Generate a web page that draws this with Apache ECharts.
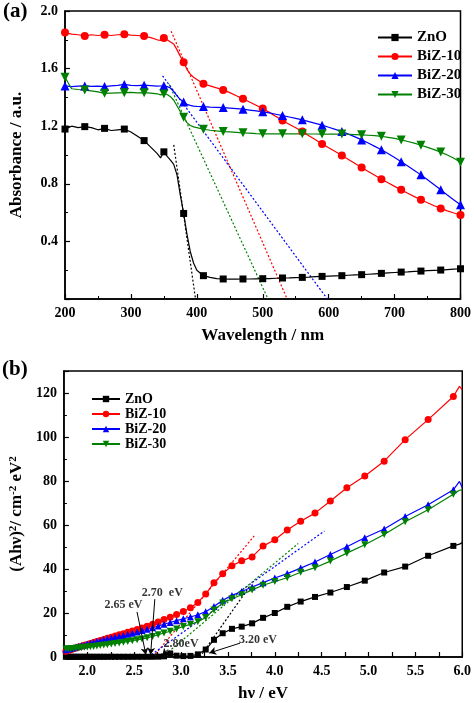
<!DOCTYPE html>
<html>
<head>
<meta charset="utf-8">
<script src="https://cdn.jsdelivr.net/npm/echarts@6/dist/echarts.min.js"></script>
<style>
  html, body { margin: 0; padding: 0; background: #fff; }
  #chart { width: 474px; height: 703px; }
</style>
</head>
<body>
<div id="chart"></div>
<script>
// ---- panel (a): absorbance vs wavelength ----
var wlA = [200, 210, 220, 230, 240, 250, 260, 270, 280, 290, 300, 310, 320, 330, 340, 345, 350, 355, 360, 365,
  370, 375, 380, 385, 390, 395, 400, 410, 420, 430, 440, 450, 460, 470, 480, 490, 500, 510, 520, 530, 540,
  550, 560, 570, 580, 590, 600, 610, 620, 630, 640, 650, 660, 670, 680, 690, 700, 710, 720, 730, 740, 750,
  760, 770, 780, 790, 800];
var znoA = [1.18, 1.20, 1.19, 1.197, 1.19, 1.175, 1.185, 1.17, 1.175, 1.18, 1.16, 1.13, 1.10, 1.055, 1.01, 0.98, 1.022, 0.99, 0.965, 0.935,
  0.86, 0.72, 0.594, 0.45, 0.33, 0.25, 0.20, 0.162, 0.150, 0.142, 0.139, 0.138, 0.138, 0.139, 0.139, 0.140, 0.141, 0.142, 0.144, 0.146, 0.147,
  0.149, 0.150, 0.152, 0.155, 0.157, 0.159, 0.161, 0.162, 0.165, 0.167, 0.169, 0.172, 0.175, 0.178, 0.181, 0.184, 0.187, 0.189, 0.192, 0.194, 0.197,
  0.199, 0.201, 0.204, 0.207, 0.21];
var biz10A = [1.85, 1.84, 1.835, 1.826, 1.835, 1.83, 1.835, 1.83, 1.835, 1.838, 1.832, 1.83, 1.826, 1.815, 1.80, 1.795, 1.812, 1.80, 1.785, 1.77,
  1.73, 1.685, 1.644, 1.595, 1.562, 1.54, 1.525, 1.494, 1.48, 1.466, 1.452, 1.433, 1.412, 1.39, 1.368, 1.346, 1.323, 1.296, 1.268, 1.239, 1.214,
  1.189, 1.163, 1.134, 1.106, 1.077, 1.05, 1.024, 0.997, 0.969, 0.941, 0.913, 0.886, 0.859, 0.832, 0.807, 0.782, 0.758, 0.734, 0.711, 0.689, 0.668,
  0.648, 0.629, 0.612, 0.597, 0.583];
var biz20A = [1.48, 1.475, 1.478, 1.48, 1.476, 1.478, 1.475, 1.48, 1.483, 1.49, 1.484, 1.482, 1.485, 1.482, 1.478, 1.479, 1.481, 1.475, 1.465, 1.44,
  1.41, 1.385, 1.368, 1.352, 1.345, 1.34, 1.338, 1.336, 1.333, 1.331, 1.329, 1.326, 1.322, 1.318, 1.312, 1.306, 1.30, 1.292, 1.283, 1.274, 1.264,
  1.254, 1.244, 1.232, 1.22, 1.207, 1.193, 1.178, 1.163, 1.145, 1.126, 1.105, 1.083, 1.06, 1.036, 1.01, 0.982, 0.953, 0.924, 0.893, 0.862, 0.828,
  0.793, 0.758, 0.722, 0.688, 0.654];
var biz30A = [1.54, 1.46, 1.455, 1.451, 1.445, 1.438, 1.428, 1.43, 1.432, 1.433, 1.435, 1.432, 1.433, 1.43, 1.425, 1.418, 1.424, 1.42, 1.405, 1.38,
  1.34, 1.30, 1.262, 1.225, 1.205, 1.195, 1.19, 1.179, 1.172, 1.167, 1.163, 1.16, 1.157, 1.154, 1.152, 1.149, 1.147, 1.147, 1.147, 1.147, 1.147,
  1.147, 1.147, 1.146, 1.146, 1.145, 1.145, 1.145, 1.145, 1.144, 1.142, 1.14, 1.137, 1.134, 1.13, 1.123, 1.115, 1.105, 1.094, 1.082, 1.068, 1.053,
  1.037, 1.02, 1.0, 0.977, 0.95];
// tangent (onset) lines, panel a
var fitA = {
  'ZnO': [[365, 1.07], [398, 0]],
  'BiZ-10': [[361, 1.86], [537, 0]],
  'BiZ-20': [[348, 1.55], [598, 0]],
  'BiZ-30': [[358, 1.49], [508, 0]]
};

// ---- panel (b): Tauc plot ----
var evB = [1.75, 1.771, 1.797, 1.824, 1.851, 1.879, 1.908, 1.938, 1.968, 2.0, 2.033, 2.067, 2.102, 2.138, 2.175, 2.214, 2.255, 2.296,
  2.34, 2.385, 2.431, 2.48, 2.531, 2.583, 2.638, 2.696, 2.756, 2.818, 2.884, 2.952, 3.024, 3.1, 3.179, 3.263, 3.351, 3.444, 3.543,
  3.647, 3.758, 3.875, 4.0, 4.133, 4.276, 4.429, 4.593, 4.769, 4.96, 5.167, 5.391, 5.636, 5.905, 5.97, 6.0];
var znoB = [0.1, 0.1, 0.1, 0.1, 0.1, 0.1, 0.1, 0.1, 0.1, 0.1, 0.1, 0.1, 0.1, 0.1, 0.1, 0.1, 0.1, 0.1,
  0.1, 0.1, 0.1, 0.1, 0.1, 0.1, 0.1, 0.1, 0.15, 0.3, 1.6, 0.6, 0.4, 0.5, 1.2, 3.4, 7.8, 10.8, 12.8,
  13.8, 15.3, 17.8, 20.0, 22.8, 25.2, 27.3, 29.3, 31.8, 34.7, 38.4, 41.1, 46.0, 50.5, 51.3, 52.0];
var biz10B = [2.3, 2.6, 3.0, 3.3, 3.7, 4.1, 4.5, 4.9, 5.3, 5.7, 6.1, 6.6, 7.0, 7.5, 8.0, 8.5, 9.0, 9.5,
  10.1, 10.6, 11.2, 11.8, 12.5, 13.2, 14.0, 14.9, 15.9, 17.0, 18.1, 19.3, 20.7, 22.4, 24.8, 28.6, 33.8, 37.8, 41.5,
  43.7, 45.5, 50.4, 53.3, 57.7, 61.7, 65.4, 70.9, 76.9, 82.3, 89.0, 98.8, 107.9, 118.4, 123.0, 121.5];
var biz20B = [3.0, 3.3, 3.6, 3.9, 4.2, 4.5, 4.9, 5.2, 5.5, 5.9, 6.2, 6.6, 7.0, 7.4, 7.8, 8.2, 8.6, 9.0,
  9.4, 9.8, 10.3, 10.8, 11.4, 12.0, 12.6, 13.3, 14.1, 14.9, 15.7, 16.5, 17.4, 18.2, 19.2, 20.6, 23.0, 25.8, 28.0,
  29.8, 31.8, 33.8, 35.9, 37.9, 40.4, 43.2, 46.6, 50.1, 54.2, 58.2, 63.9, 69.2, 76.0, 79.8, 77.0];
var biz30B = [3.5, 3.6, 3.7, 3.8, 3.9, 4.0, 4.1, 4.2, 4.4, 4.5, 4.7, 4.8, 5.0, 5.2, 5.4, 5.6, 5.9, 6.1,
  6.4, 6.7, 7.0, 7.4, 7.8, 8.2, 8.7, 9.3, 10.1, 10.9, 11.7, 12.7, 13.9, 14.8, 16.0, 18.0, 21.4, 24.5, 26.5,
  28.3, 30.5, 32.6, 34.3, 36.0, 38.5, 40.6, 43.6, 47.2, 51.0, 55.7, 61.5, 66.9, 74.0, 75.8, 76.0];
var fitB = {
  'ZnO': [[3.20, 0], [3.73, 32]],
  'BiZ-10': [[2.70, 0], [3.78, 55]],
  'BiZ-20': [[2.65, 0], [4.53, 57.3]],
  'BiZ-30': [[2.80, 0], [4.25, 51.6]]
};
// band gap labels: [text, x, y] and arrows: [[x1, y1], [x2, y2]]
var gapLabels = [['2.65 eV', 2.385, 23.6], ['2.70  eV', 2.80, 29.2], ['2.80eV', 3.0, 5.8], ['3.20 eV', 3.82, 7.9]];
var gapArrows = [
  [[2.53, 20.5], [2.625, 1.0]],
  [[2.72, 26.3], [2.675, 1.0]],
  [[2.86, 3.4], [2.80, 0.6]],
  [[3.63, 6.3], [3.30, 1.8]]
];

var names = ['ZnO', 'BiZ-10', 'BiZ-20', 'BiZ-30'];
var colors = ['#000000', '#ff0000', '#0000ff', '#008000'];
var symbols = ['rect', 'circle', 'triangle', 'triangle'];
var rotates = [0, 0, 0, 180];

var FONT = '"Liberation Serif", "Times New Roman", serif';
var txt = { color: '#000', fontFamily: FONT, fontWeight: 'bold', fontSize: 14 };

function markerA(x) { return (x - 200) % 30 === 0; }
function markerB(x) { return x > 1.76 && x < 5.95; }

function buildData(xs, ys, isMarker) {
  return xs.map(function (x, i) {
    return isMarker(x) ? [x, ys[i]] : { value: [x, ys[i]], symbol: 'none' };
  });
}

function axisCommon() {
  return {
    axisLine: { show: true, lineStyle: { color: '#000', width: 1.5 } },
    axisTick: { show: true, inside: true, length: 5, lineStyle: { color: '#000', width: 1.2 } },
    minorTick: { show: true, splitNumber: 2, length: 3, lineStyle: { color: '#000', width: 1 } },
    splitLine: { show: false },
    axisLabel: Object.assign({ margin: 7 }, txt),
    nameTextStyle: { color: '#000', fontFamily: FONT, fontWeight: 'bold', fontSize: 17 }
  };
}

var series = [];
var dataA = [znoA, biz10A, biz20A, biz30A];
var dataB = [znoB, biz10B, biz20B, biz30B];
names.forEach(function (n, i) {
  series.push({
    name: n, type: 'line', xAxisIndex: 0, yAxisIndex: 0,
    data: buildData(wlA, dataA[i], markerA),
    symbol: symbols[i], symbolRotate: rotates[i], symbolSize: i === 0 ? 7 : (i === 1 ? 8 : 9),
    showAllSymbol: true, color: colors[i],
    lineStyle: { width: 1.2, color: colors[i] }, z: 3
  });
  series.push({
    name: 'fitA ' + n, type: 'line', xAxisIndex: 0, yAxisIndex: 0,
    data: fitA[n], symbol: 'none', silent: true,
    lineStyle: { width: 1.2, type: [2, 2], color: colors[i] }, z: 2
  });
});
names.forEach(function (n, i) {
  series.push({
    name: n, type: 'line', xAxisIndex: 1, yAxisIndex: 1,
    data: buildData(evB, dataB[i], markerB),
    symbol: symbols[i], symbolRotate: rotates[i], symbolSize: i === 0 ? 6 : 7,
    showAllSymbol: true, color: colors[i],
    lineStyle: { width: 1.2, color: colors[i] }, z: 3
  });
  series.push({
    name: 'fitB ' + n, type: 'line', xAxisIndex: 1, yAxisIndex: 1,
    data: fitB[n], symbol: 'none', silent: true,
    lineStyle: { width: 1.2, type: [2, 2], color: colors[i] }, z: 2
  });
});
series.push({
  name: 'gaps', type: 'scatter', xAxisIndex: 1, yAxisIndex: 1,
  data: gapLabels.map(function (g) { return [g[1], g[2], g[0]]; }),
  symbolSize: 0, silent: true, z: 5,
  label: { show: true, position: 'inside', formatter: function (p) { return p.value[2]; },
    color: '#000', fontFamily: FONT, fontWeight: 'bold', fontSize: 12 },
  markLine: {
    silent: true, symbol: ['none', 'arrow'], symbolSize: [6, 7],
    label: { show: false },
    lineStyle: { color: '#000', width: 1, type: 'solid' },
    data: gapArrows.map(function (a) { return [{ coord: a[0] }, { coord: a[1] }]; })
  }
});

var chart = echarts.init(document.getElementById('chart'), null, { renderer: 'canvas' });
chart.setOption({
  backgroundColor: '#fff',
  animation: false,
  grid: [
    { left: 61, top: 11, width: 402, height: 288, show: true, borderColor: '#000', borderWidth: 1.5 },
    { left: 61, top: 371, width: 402, height: 288, show: true, borderColor: '#000', borderWidth: 1.5 }
  ],
  xAxis: [
    Object.assign(axisCommon(), {
      type: 'value', gridIndex: 0, min: 200, max: 800, interval: 100,
      name: 'Wavelength / nm', nameLocation: 'middle', nameGap: 28
    }),
    Object.assign(axisCommon(), {
      type: 'value', gridIndex: 1, min: 1.75, max: 6.0, interval: 0.25,
      minorTick: { show: false },
      axisLabel: Object.assign({ margin: 7, formatter: function (v) {
        return Math.abs(v * 2 - Math.round(v * 2)) < 1e-6 ? v.toFixed(1) : '';
      } }, txt),
      name: 'hν / eV', nameLocation: 'middle', nameGap: 28
    })
  ],
  yAxis: [
    Object.assign(axisCommon(), {
      type: 'value', gridIndex: 0, min: 0, max: 2.0, interval: 0.4,
      axisLabel: Object.assign({ margin: 7, formatter: function (v) { return v === 0 ? '' : v.toFixed(1); } }, txt),
      name: 'Absorbance / a.u.', nameLocation: 'middle', nameGap: 40
    }),
    Object.assign(axisCommon(), {
      type: 'value', gridIndex: 1, min: 0, max: 130, interval: 20,
      axisLabel: Object.assign({ margin: 7, formatter: function (v) { return v > 120 ? '' : String(v); } }, txt),
      name: '(Ahν){s|2}/ cm{s|-2} eV{s|2}', nameLocation: 'middle', nameGap: 37,
      nameTextStyle: {
        color: '#000', fontFamily: FONT, fontWeight: 'bold', fontSize: 17,
        rich: { s: { fontFamily: FONT, fontWeight: 'bold', fontSize: 11, verticalAlign: 'top', lineHeight: 10 } }
      }
    })
  ],
  legend: [
    { data: names, orient: 'vertical', left: 372, top: 25, itemWidth: 34, itemHeight: 9, itemGap: 4,
      textStyle: Object.assign({}, txt, { fontSize: 15 }), selectedMode: false },
    { data: names, orient: 'vertical', left: 86, top: 387, itemWidth: 28, itemHeight: 8, itemGap: 1,
      textStyle: Object.assign({}, txt, { fontSize: 14 }), selectedMode: false }
  ],
  graphic: [
    { type: 'text', left: 3, top: 1, style: { text: '(a)', font: 'bold 21px ' + FONT, fill: '#000' } },
    { type: 'text', left: 2, top: 359, style: { text: '(b)', font: 'bold 21px ' + FONT, fill: '#000' } }
  ],
  series: series
});
</script>
</body>
</html>
